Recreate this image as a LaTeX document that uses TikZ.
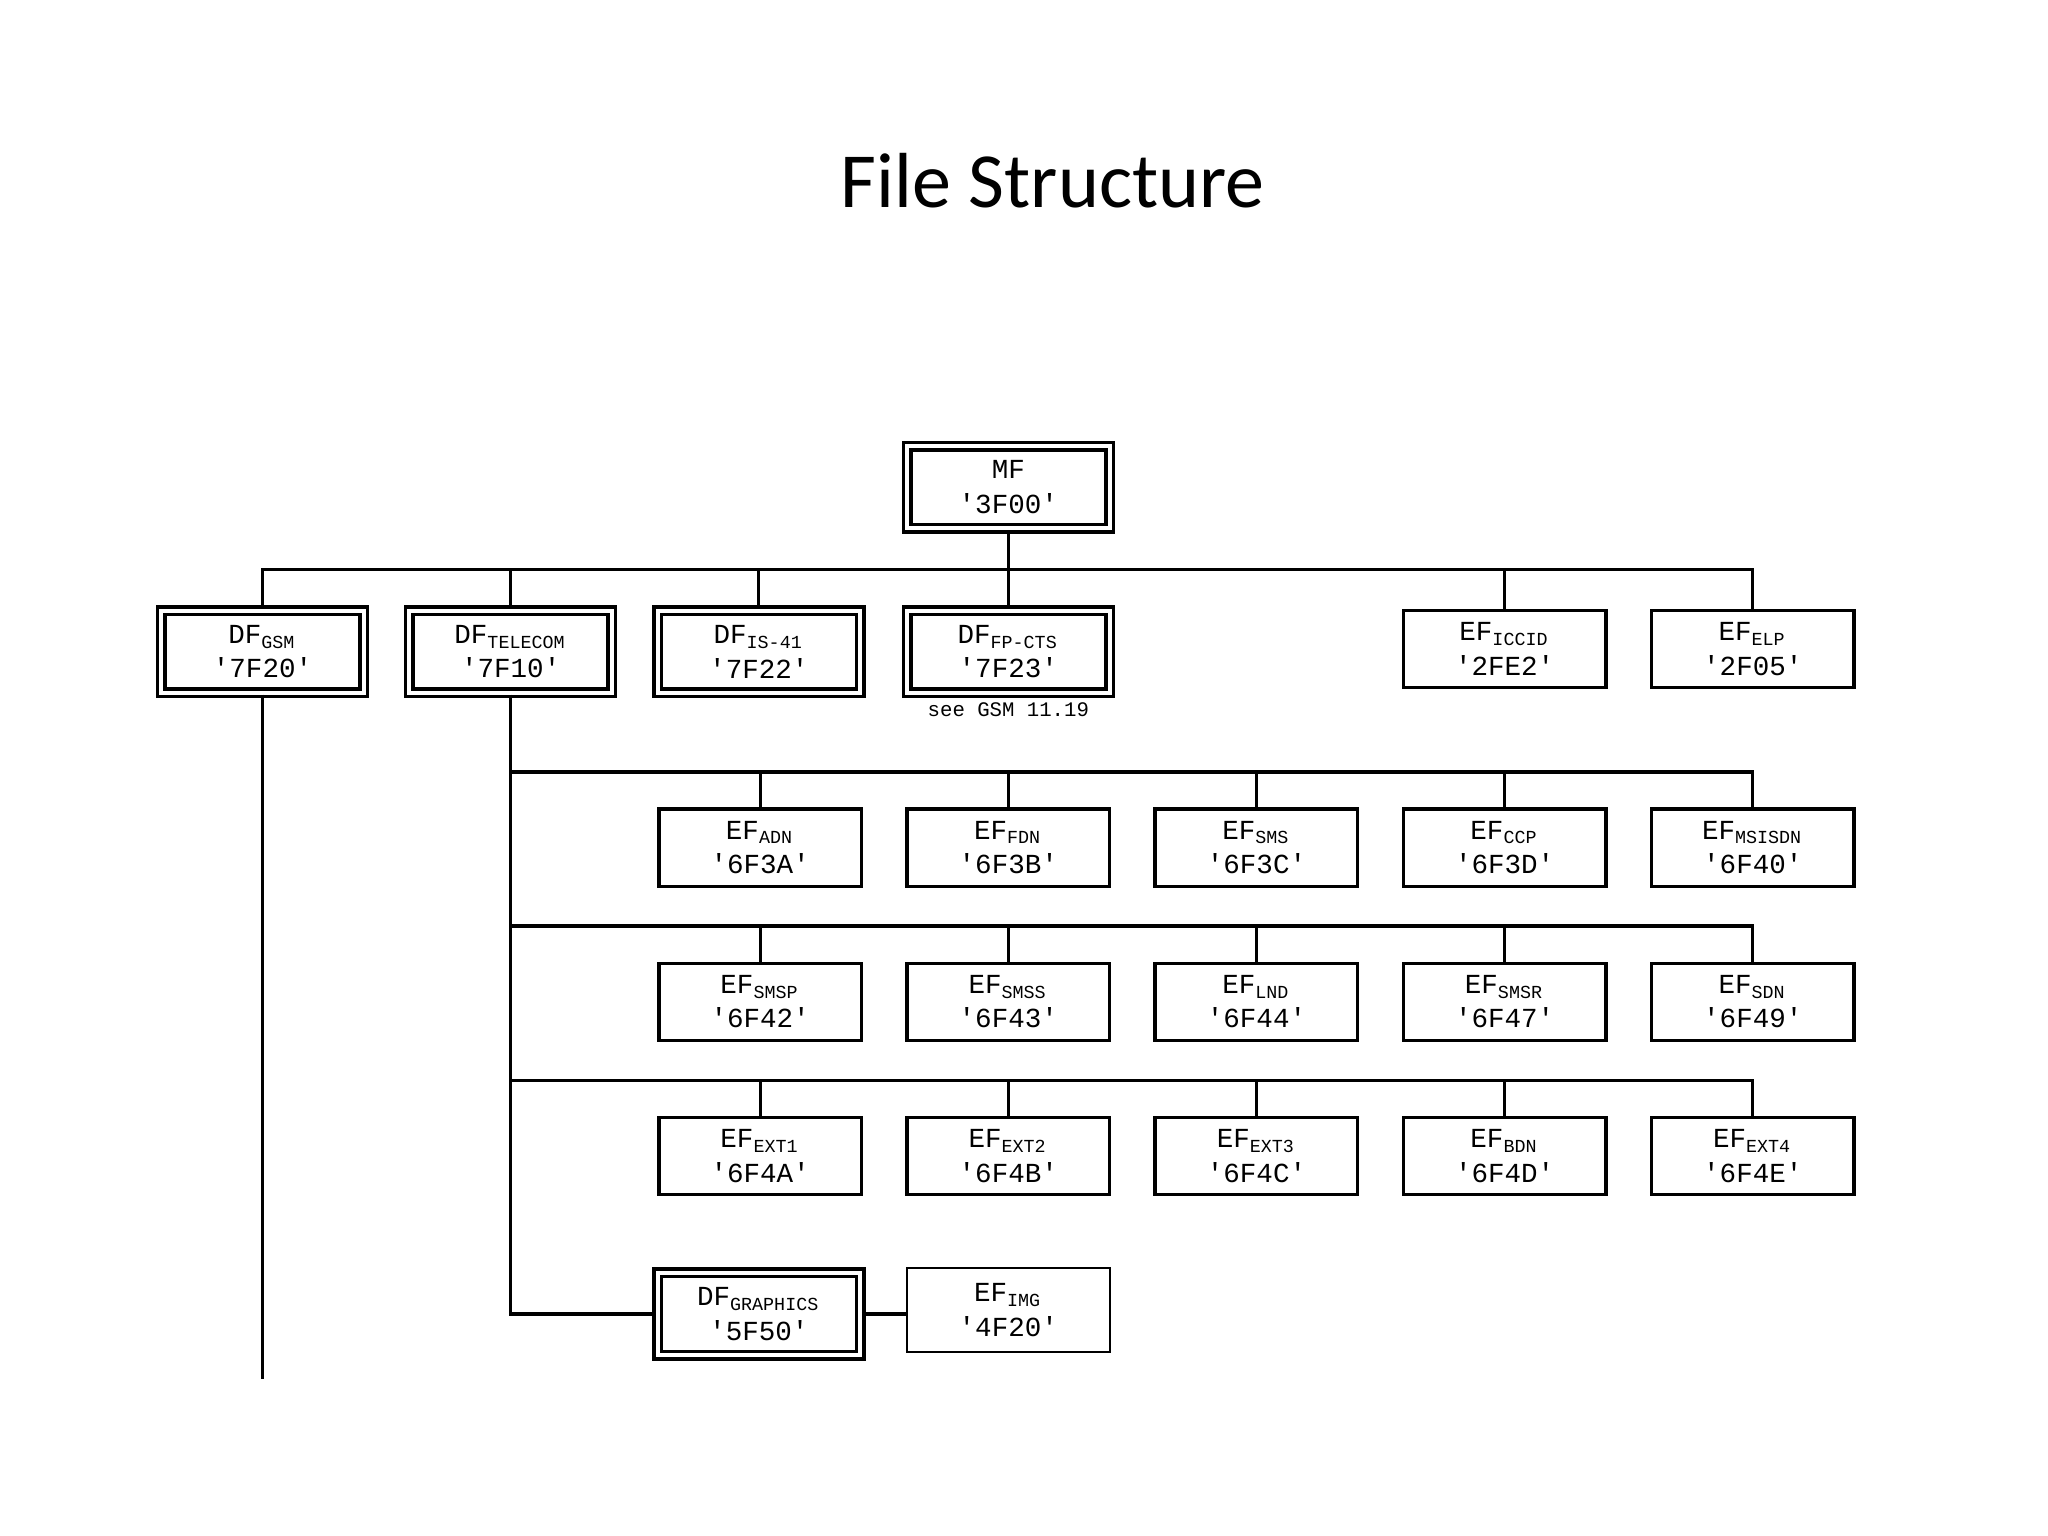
\documentclass[tikz,border=0pt]{standalone}
\usepackage{fontspec}
\setmainfont{Liberation Mono}
\newfontfamily\titlefont{Carlito}
\begin{document}
\begin{tikzpicture}[x=0.01cm,y=-0.01cm,
  ln/.style={line width=0.7pt},
  box/.style={draw,line width=0.75pt,inner sep=0pt,align=center,font=\fontsize{6}{7}\selectfont},
  ef/.style={box,minimum width=1.55cm,minimum height=0.59cm},
  df/.style={box,minimum width=1.55cm,minimum height=0.63cm,double,double distance=0.9pt,line width=0.75pt},
  img/.style={ef,line width=0.4pt,minimum height=0.64cm}]
\useasboundingbox (0,0) rectangle (1568,1176);
\newcommand{\q}{\textquotesingle}
\newcommand{\lab}[3]{#1\textsubscript{\fontsize{4}{4}\selectfont #2}\\[0.5pt]\q#3\q}
\node[font=\titlefont\fontsize{17}{20}\selectfont] (title) at (806,138) {File Structure};
\node[df,minimum height=0.63cm] (mf) at (772,373) {MF\\[0.5pt]\q3F00\q};
\node[df] (gsm) at (201,499) {\lab{DF}{GSM}{7F20}};
\node[df] (tel) at (391,499) {\lab{DF}{TELECOM}{7F10}};
\node[df] (is) at (581,499) {\lab{DF}{IS-41}{7F22}};
\node[df] (fp) at (772,499) {\lab{DF}{FP-CTS}{7F23}};
\node[ef] (iccid) at (1152,497) {\lab{EF}{ICCID}{2FE2}};
\node[ef] (elp) at (1342,497) {\lab{EF}{ELP}{2F05}};
\node[font=\fontsize{4.5}{5}\selectfont] (see) at (772,543) {see GSM 11.19};
\coordinate (b0) at (772,436);
\draw[ln] (mf.south) -- (b0);
\draw[ln] (gsm.north) |- (elp.north |- b0) -- (elp.north);
\foreach \n in {tel,is,fp,iccid} \draw[ln] (\n.north) -- (\n.north |- b0);
\foreach \r/\y/\a/\b/\c/\d/\e in {
 1/649/{\lab{EF}{ADN}{6F3A}}/{\lab{EF}{FDN}{6F3B}}/{\lab{EF}{SMS}{6F3C}}/{\lab{EF}{CCP}{6F3D}}/{\lab{EF}{MSISDN}{6F40}},
 2/767/{\lab{EF}{SMSP}{6F42}}/{\lab{EF}{SMSS}{6F43}}/{\lab{EF}{LND}{6F44}}/{\lab{EF}{SMSR}{6F47}}/{\lab{EF}{SDN}{6F49}},
 3/885/{\lab{EF}{EXT1}{6F4A}}/{\lab{EF}{EXT2}{6F4B}}/{\lab{EF}{EXT3}{6F4C}}/{\lab{EF}{BDN}{6F4D}}/{\lab{EF}{EXT4}{6F4E}}}{
  \node[ef] (r\r a) at (582,\y) {\a};
  \node[ef] (r\r b) at (772,\y) {\b};
  \node[ef] (r\r c) at (962,\y) {\c};
  \node[ef] (r\r d) at (1152,\y) {\d};
  \node[ef] (r\r e) at (1342,\y) {\e};
  \coordinate (bus\r) at (391,\y-58);
  \draw[ln] (bus\r) -| (r\r e.north);
  \foreach \k in {a,b,c,d} \draw[ln] (r\r\k.north) -- (r\r\k.north |- bus\r);
}
\node[df] (gr) at (581,1006) {\lab{DF}{GRAPHICS}{5F50}};
\node[img] (img) at (772,1003) {\lab{EF}{IMG}{4F20}};
\draw[ln] (tel.south) |- (gr.west);
\draw[ln] (gr.east) -- (img.west |- gr.east);
\coordinate (gend) at (201,1056);
\draw[ln] (gsm.south) -- (gend);
\end{tikzpicture}
\end{document}
